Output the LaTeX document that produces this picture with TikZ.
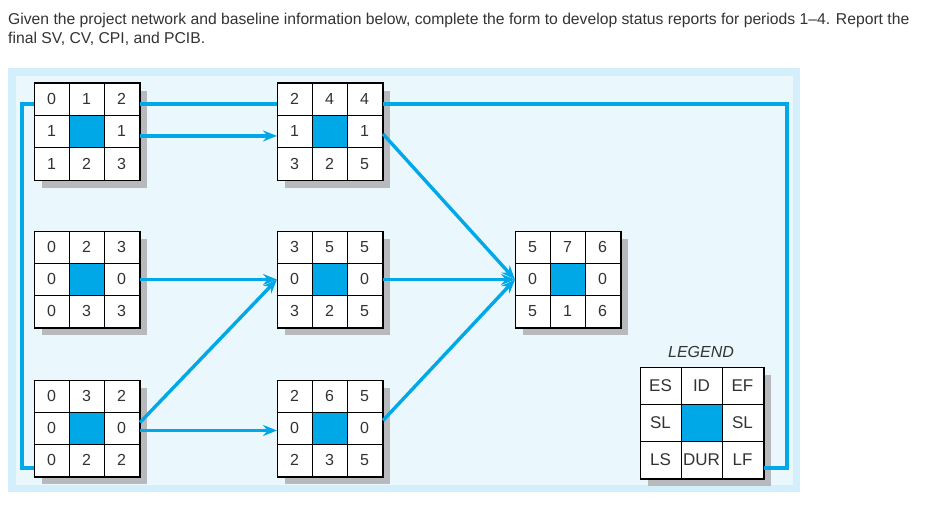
\documentclass[tikz,border=0pt]{standalone}
\usepackage{fontspec}
\setmainfont{Liberation Sans}
\usetikzlibrary{arrows.meta}
\definecolor{pblue}{HTML}{00A8E8}
\definecolor{panel}{HTML}{D3EFFB}
\definecolor{inner}{HTML}{EAF8FE}
\definecolor{shadowgray}{HTML}{B8B9BC}
\definecolor{txt}{HTML}{333333}
\tikzset{
  conn/.style={pblue, line width=3.4pt, -{Stealth[length=14pt,width=11pt]}},
  frameline/.style={pblue, line width=3.4pt},
  celltxt/.style={font=\fontsize{16}{18}\selectfont, text=txt, inner sep=0}
}
\newcommand\actbox[8]{%
  \fill[shadowgray] ({#2+8},{#3+8}) rectangle ({#2+8+3*#4},{#3+8+3*#5});
  \node[draw, fill=white, line width=1pt, anchor=north west, inner sep=0,
        minimum width={3*#4 pt}, minimum height={3*#5 pt}] (#1) at (#2,#3) {};
  \fill[pblue] ({#2+#4},{#3+#5}) rectangle ({#2+2*#4},{#3+2*#5});
  \draw[line width=1pt] ({#2+#4},#3) -- ({#2+#4},{#3+3*#5})
     ({#2+2*#4},#3) -- ({#2+2*#4},{#3+3*#5})
     (#2,{#3+#5}) -- ({#2+3*#4},{#3+#5})
     (#2,{#3+2*#5}) -- ({#2+3*#4},{#3+2*#5});
  \draw[line width=1pt] (#1.north west) rectangle (#1.south east);
  \foreach \t [count=\i] in {#6} \node[celltxt] at ({#2+(\i-0.5)*#4},{#3+0.5*#5}) {\t};
  \foreach \t [count=\i] in {#7} \node[celltxt] at ({#2+(2*\i-1.5)*#4},{#3+1.5*#5}) {\t};
  \foreach \t [count=\i] in {#8} \node[celltxt] at ({#2+(\i-0.5)*#4},{#3+2.5*#5}) {\t};
}
\begin{document}
\begin{tikzpicture}[x=1pt,y=-1pt]
\useasboundingbox (0,0) rectangle (950,513);
\fill[white] (0,0) rectangle (950,513);
\node[anchor=north west, align=left, text=txt, font=\fontsize{15.7}{19}\selectfont, inner sep=0]
  (title) at (8,13) {Given the project network and baseline information below, complete the form to develop status reports for periods 1--4. Report the\\final SV, CV, CPI, and PCIB.};
\fill[panel] (8,68) rectangle (800,492);
\fill[inner] (16,76) rectangle (793,485);
\actbox{n1}{34}{83}{35}{32.3}{0,1,2}{1,1}{1,2,3}
\actbox{n2}{277}{83}{35}{32.3}{2,4,4}{1,1}{3,2,5}
\actbox{n3}{34}{231}{35}{32}{0,2,3}{0,0}{0,3,3}
\actbox{n5}{277}{231}{35}{32}{3,5,5}{0,0}{3,2,5}
\actbox{n7}{515}{231}{35}{32}{5,7,6}{0,0}{5,1,6}
\actbox{n4}{34}{380}{35}{32}{0,3,2}{0,0}{0,2,2}
\actbox{n6}{277}{380}{35}{32}{2,6,5}{0,0}{2,3,5}
\node[celltxt, font=\fontsize{16}{18}\selectfont\itshape] (leg) at (701,352) {LEGEND};
\begin{scope}[celltxt/.append style={font=\fontsize{17}{19}\selectfont}]
\actbox{lg}{640}{367}{41}{37}{ES,ID,EF}{SL,SL}{LS,DUR,LF}
\end{scope}
% frame lines
\coordinate (c1) at (22,104);
\coordinate (c2) at (22,468);
\coordinate (c3) at (787,104);
\coordinate (c4) at (787,468);
\draw[frameline] ([yshift=-21pt]n1.north west) -- (c1) -- (c2) -- (c2 -| n4.west);
\draw[frameline] ([yshift=-21pt]n1.north east) -- ([yshift=-21pt]n2.north west);
\draw[frameline] ([yshift=-21pt]n2.north east) -- (c3) -- (c4) -- (c4 -| lg.east);
% arrows
\draw[conn] ([yshift=-4pt]n1.east) -- ([yshift=-4pt]n2.west);
\draw[conn] ([yshift=-2pt]n2.east) -- (n7.west);
\draw[conn] (n3.east) -- (n5.west);
\draw[conn] (n5.east) -- (n7.west);
\draw[conn] ([yshift=6pt]n4.east) -- (n5.west);
\draw[conn] ([yshift=-2pt]n4.east) -- ([yshift=-2pt]n6.west);
\draw[conn] ([yshift=8pt]n6.east) -- (n7.west);
\end{tikzpicture}
\end{document}
